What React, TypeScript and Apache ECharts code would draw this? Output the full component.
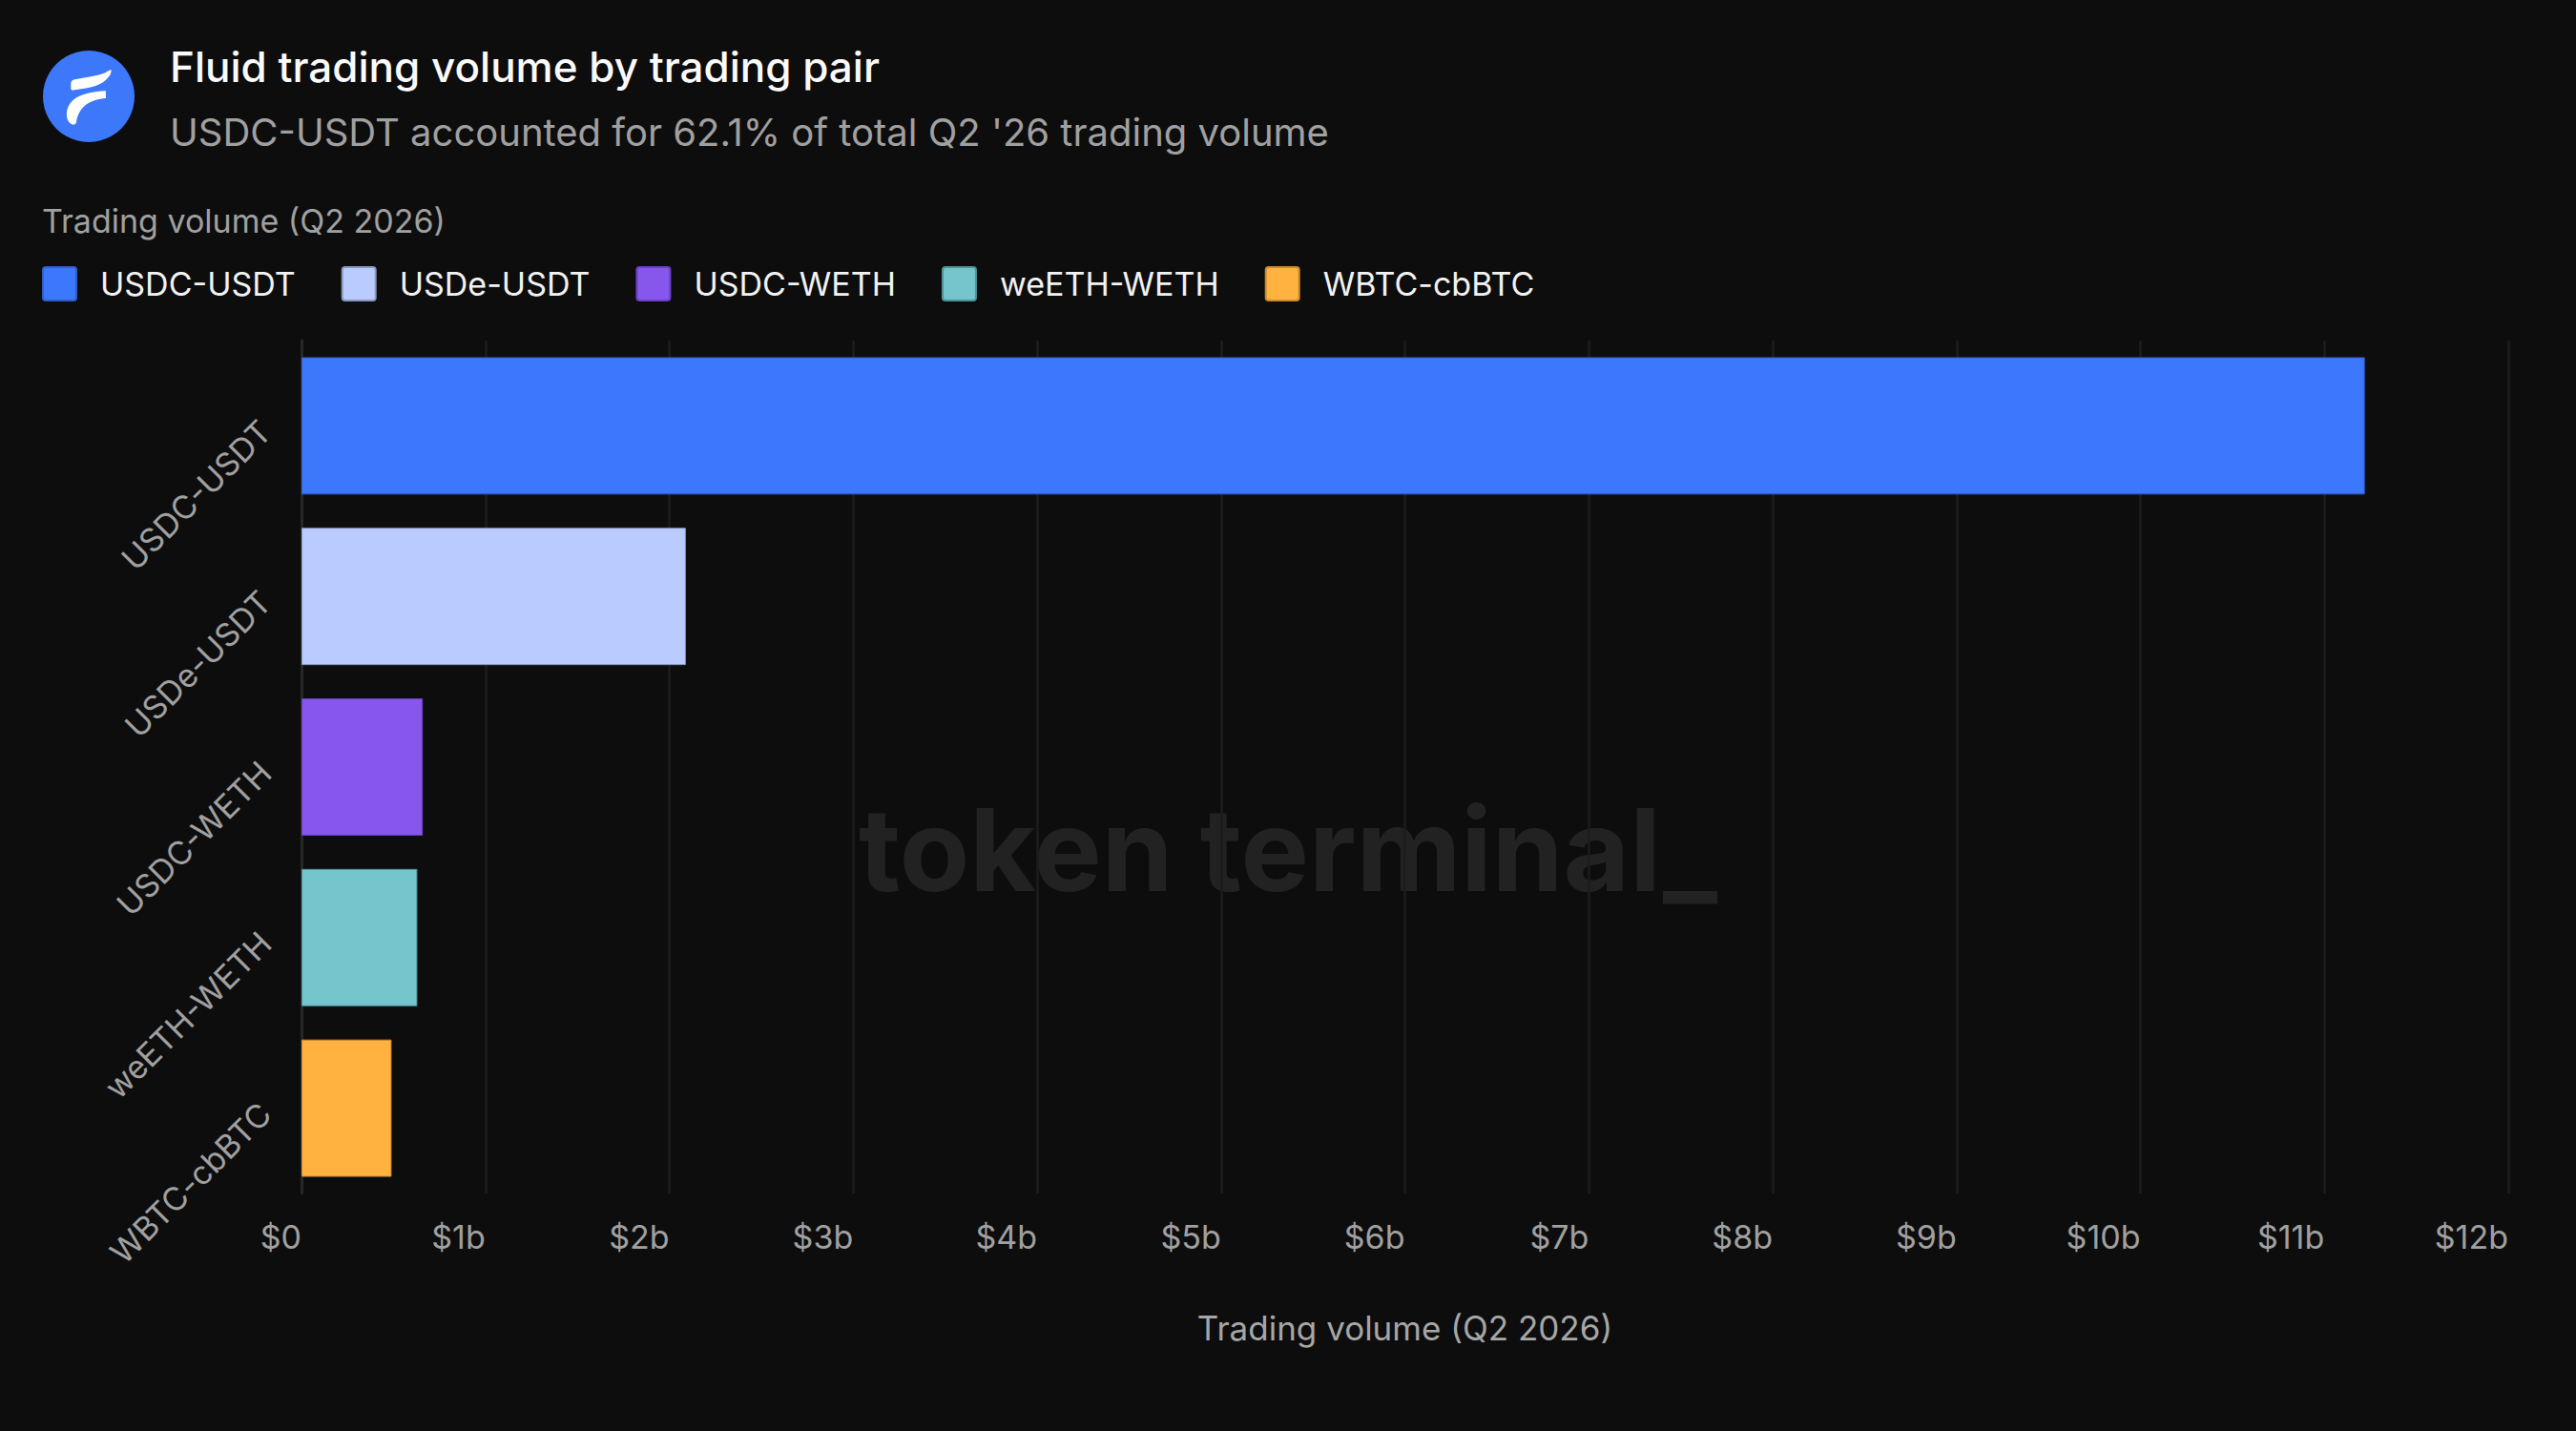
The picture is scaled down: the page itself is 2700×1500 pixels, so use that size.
import React, { useEffect, useRef } from "react";
import * as echarts from "echarts";

const categories = ["USDC-USDT", "USDe-USDT", "USDC-WETH", "weETH-WETH", "WBTC-cbBTC"];
const volumes = [11.22e9, 2.09e9, 0.66e9, 0.63e9, 0.49e9];
const colors = ["#3c78fb", "#b9cbff", "#8756ec", "#75c5cc", "#ffb240"];
const borderColors = ["#2f5fc8", "#8a98c0", "#6a3fc0", "#4f9298", "#c98a30"];
const xTicks = ["$0", "$1b", "$2b", "$3b", "$4b", "$5b", "$6b", "$7b", "$8b", "$9b", "$10b", "$11b", "$12b"];

const TITLE = "Fluid trading volume by trading pair";
const SUBTITLE = "USDC-USDT accounted for 62.1% of total Q2 '26 trading volume";
const LEGEND_TITLE = "Trading volume (Q2 2026)";
const AXIS_NAME = "Trading volume (Q2 2026)";
const WATERMARK = "token terminal_";

const FONT = "Inter, 'Noto Sans', sans-serif";

const logoUpper =
  "M103,118 C103,112 108,108 115,106 C150,98 200,95 222,78 C228,74 232,76 230,82 C224,108 190,128 150,134 L110,140 C106,141 103,138 103,134 Z";
const logoLower =
  "M213,142 L213,165 C165,168 128,190 120,240 C119,248 110,250 104,246 C94,240 88,225 90,210 C95,170 130,146 213,142 Z";

let registered = false;
function registerShapes() {
  if (registered) return;
  registered = true;
  echarts.graphic.registerShape("fluidUpper", echarts.graphic.extendPath(logoUpper, {}) as any);
  echarts.graphic.registerShape("fluidLower", echarts.graphic.extendPath(logoLower, {}) as any);
}

export default function App() {
  const ref = useRef<HTMLDivElement>(null);
  useEffect(() => {
    document.body.style.margin = "0";
    document.body.style.background = "#0d0d0d";
    registerShapes();
    const chart = echarts.init(ref.current!, null, { renderer: "svg" });
    const series = categories.map((name, i) => ({
      name,
      type: "bar",
      stack: "total",
      barCategoryGap: "19.5%",
      data: categories.map((_, j) => (j === i ? volumes[i] : "-")),
      itemStyle: { color: colors[i], borderColor: borderColors[i], borderWidth: 1 },
      emphasis: { disabled: true },
    }));
    chart.setOption({
      animation: false,
      backgroundColor: "#0d0d0d",
      textStyle: { fontFamily: FONT },
      grid: { left: 316, right: 71, top: 357, bottom: 249, containLabel: false },
      legend: {
        left: 44,
        top: 279,
        padding: 0,
        itemWidth: 35,
        itemHeight: 35,
        itemGap: 48,
        icon: "path://M3,0 H32 A3,3 0 0 1 35,3 V32 A3,3 0 0 1 32,35 H3 A3,3 0 0 1 0,32 V3 A3,3 0 0 1 3,0 Z",
        textStyle: { color: "#f2f2f2", fontSize: 34, lineHeight: 35, fontFamily: FONT, padding: [0, 0, 0, 20] },
        data: categories,
        selectedMode: false,
      },
      xAxis: {
        type: "value",
        min: 0,
        max: 12e9,
        interval: 1e9,
        name: AXIS_NAME,
        nameLocation: "middle",
        nameGap: 123,
        nameTextStyle: { color: "#a6a6a6", fontSize: 35, fontFamily: FONT },
        axisLine: { show: false },
        axisTick: { show: false },
        axisLabel: {
          color: "#a0a0a0",
          fontSize: 34,
          fontFamily: FONT,
          align: "right",
          margin: 28,
          formatter: (v: number) => xTicks[Math.round(v / 1e9)] ?? "",
        },
        splitLine: { show: true, lineStyle: { color: "#1c1c1c", width: 2.5 } },
      },
      yAxis: {
        type: "category",
        inverse: true,
        data: categories,
        axisLine: { show: true, lineStyle: { color: "#2a2a2a", width: 2.7 } },
        axisTick: { show: false },
        axisLabel: { color: "#a0a0a0", fontSize: 34, fontFamily: FONT, rotate: 45, margin: 38 },
        splitLine: { show: false },
      },
      graphic: [
        {
          type: "text",
          z: -10,
          x: 1350,
          y: 890,
          silent: true,
          style: {
            text: WATERMARK,
            x: 0,
            y: 0,
            fill: "rgba(255,255,255,0.09)",
            font: `700 120px ${FONT}`,
            align: "center",
            verticalAlign: "middle",
          },
        },
        {
          type: "circle",
          shape: { cx: 93, cy: 101, r: 48 },
          style: { fill: "#3d78fb" },
        },
        {
          type: "fluidUpper",
          x: 40,
          y: 48,
          scaleX: 1 / 3,
          scaleY: 1 / 3,
          style: { fill: "#ffffff" },
        },
        {
          type: "fluidLower",
          x: 40,
          y: 48,
          scaleX: 1 / 3,
          scaleY: 1 / 3,
          style: { fill: "#ffffff" },
        },
        {
          type: "text",
          x: 178,
          y: 70,
          style: {
            text: TITLE,
            fill: "#fafafa",
            font: `500 44px ${FONT}`,
            verticalAlign: "middle",
          },
        },
        {
          type: "text",
          x: 178,
          y: 138,
          style: {
            text: SUBTITLE,
            fill: "#a0a0a0",
            font: `400 40px ${FONT}`,
            verticalAlign: "middle",
          },
        },
        {
          type: "text",
          x: 44,
          y: 231,
          style: {
            text: LEGEND_TITLE,
            fill: "#a0a0a0",
            font: `400 34px ${FONT}`,
            verticalAlign: "middle",
          },
        },
      ],
      series,
    });
    return () => chart.dispose();
  }, []);
  return (
    <div
      ref={ref}
      style={{ position: "absolute", left: 0, top: 0, width: 2700, height: 1500, background: "#0d0d0d" }}
    />
  );
}
